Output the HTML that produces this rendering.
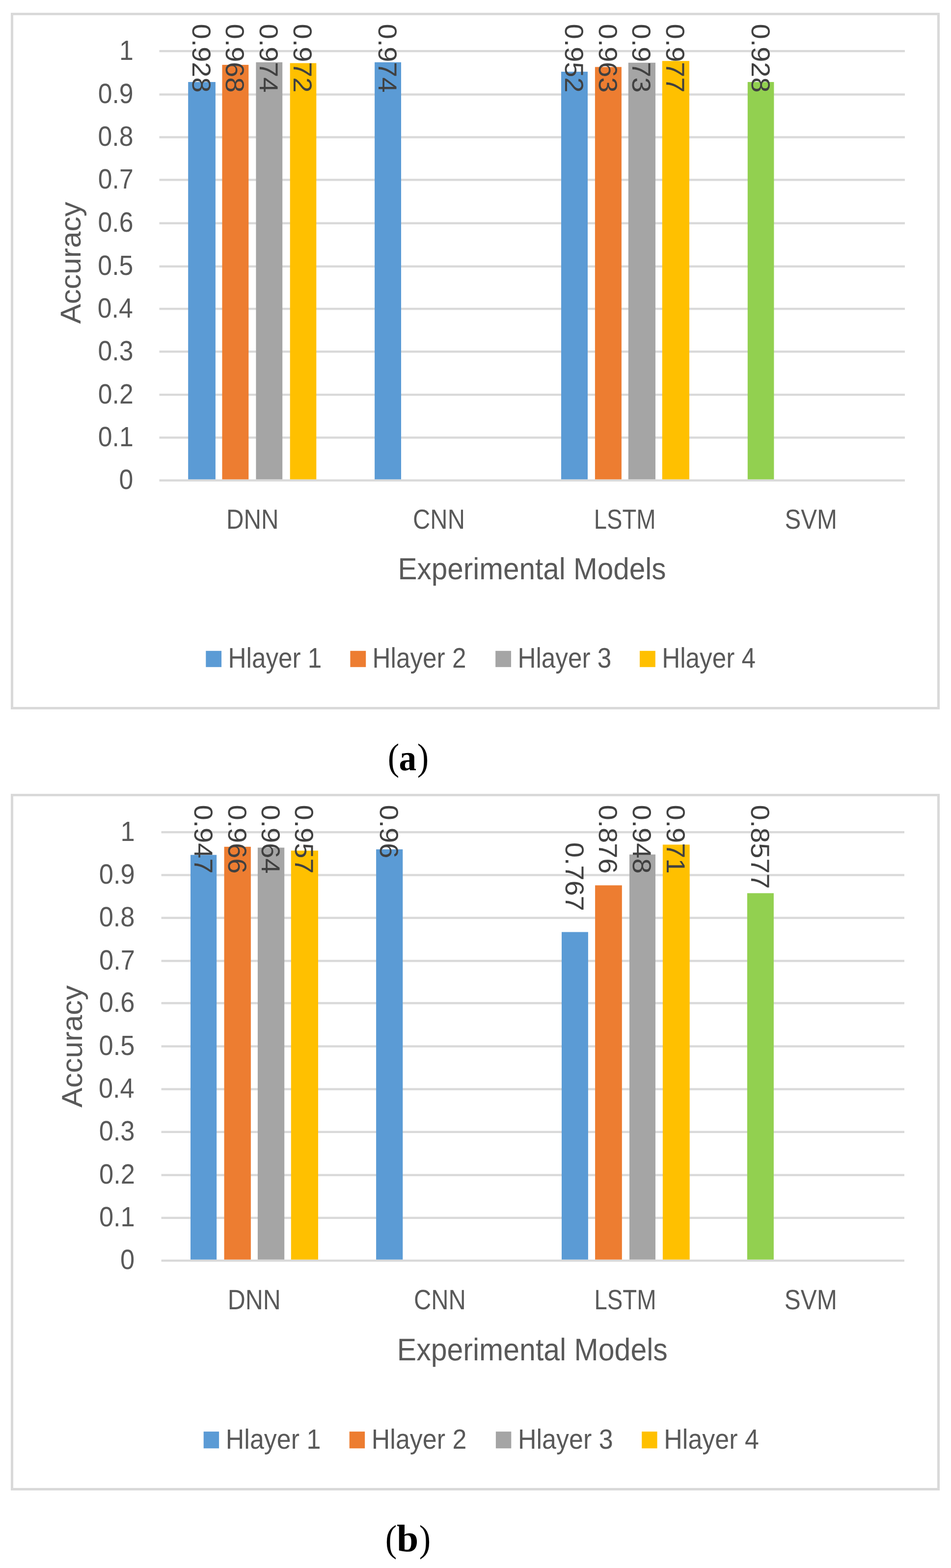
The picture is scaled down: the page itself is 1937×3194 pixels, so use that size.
<!DOCTYPE html>
<html lang="en"><head><meta charset="utf-8"><title>Accuracy of experimental models</title>
<style>
html,body{margin:0;padding:0;background:#ffffff;}
body{width:1937px;height:3194px;overflow:hidden;}
svg{display:block;}
svg text{font-kerning:none;text-rendering:geometricPrecision;font-variant-ligatures:none;}
</style></head>
<body>
<svg width="1937" height="3194" viewBox="0 0 1937 3194">
<rect x="0" y="0" width="1937" height="3194" fill="#ffffff"/>
<rect x="22.00" y="26.00" width="1892.00" height="5.00" fill="#D9D9D9"/>
<rect x="22.00" y="1440.00" width="1892.00" height="5.00" fill="#D9D9D9"/>
<rect x="22.00" y="26.00" width="5.00" height="1419.00" fill="#D9D9D9"/>
<rect x="1909.00" y="26.00" width="5.00" height="1419.00" fill="#D9D9D9"/>
<rect x="324.50" y="101.90" width="1518.50" height="4.40" fill="#D9D9D9"/>
<rect x="324.50" y="190.30" width="1518.50" height="4.40" fill="#D9D9D9"/>
<rect x="324.50" y="277.30" width="1518.50" height="4.40" fill="#D9D9D9"/>
<rect x="324.50" y="364.20" width="1518.50" height="4.40" fill="#D9D9D9"/>
<rect x="324.50" y="452.50" width="1518.50" height="4.40" fill="#D9D9D9"/>
<rect x="324.50" y="540.50" width="1518.50" height="4.40" fill="#D9D9D9"/>
<rect x="324.50" y="626.90" width="1518.50" height="4.40" fill="#D9D9D9"/>
<rect x="324.50" y="714.10" width="1518.50" height="4.40" fill="#D9D9D9"/>
<rect x="324.50" y="801.90" width="1518.50" height="4.40" fill="#D9D9D9"/>
<rect x="324.50" y="889.20" width="1518.50" height="4.40" fill="#D9D9D9"/>
<rect x="324.50" y="976.40" width="1518.50" height="4.40" fill="#D9D9D9"/>
<rect x="383.20" y="167.06" width="55.70" height="809.34" fill="#5B9BD5"/>
<rect x="452.50" y="132.08" width="53.80" height="844.32" fill="#ED7D31"/>
<rect x="521.40" y="126.84" width="53.80" height="849.56" fill="#A5A5A5"/>
<rect x="590.70" y="128.59" width="53.60" height="847.81" fill="#FFC000"/>
<rect x="763.10" y="126.84" width="53.90" height="849.56" fill="#5B9BD5"/>
<rect x="1143.00" y="146.08" width="54.00" height="830.32" fill="#5B9BD5"/>
<rect x="1211.90" y="136.46" width="54.00" height="839.94" fill="#ED7D31"/>
<rect x="1279.80" y="127.71" width="55.20" height="848.69" fill="#A5A5A5"/>
<rect x="1348.80" y="124.21" width="55.20" height="852.19" fill="#FFC000"/>
<rect x="1522.80" y="167.06" width="53.60" height="809.34" fill="#92D050"/>
<text transform="translate(392.01 48.51) rotate(90) scale(0.56000 0.53000)" font-size="100" fill="#404040" font-family='"Liberation Sans", Arial, sans-serif'>0.928</text>
<text transform="translate(460.36 48.51) rotate(90) scale(0.56000 0.53000)" font-size="100" fill="#404040" font-family='"Liberation Sans", Arial, sans-serif'>0.968</text>
<text transform="translate(529.26 48.51) rotate(90) scale(0.56000 0.53000)" font-size="100" fill="#404040" font-family='"Liberation Sans", Arial, sans-serif'>0.974</text>
<text transform="translate(598.46 48.51) rotate(90) scale(0.56000 0.53000)" font-size="100" fill="#404040" font-family='"Liberation Sans", Arial, sans-serif'>0.972</text>
<text transform="translate(771.01 48.51) rotate(90) scale(0.56000 0.53000)" font-size="100" fill="#404040" font-family='"Liberation Sans", Arial, sans-serif'>0.974</text>
<text transform="translate(1150.96 48.51) rotate(90) scale(0.56000 0.53000)" font-size="100" fill="#404040" font-family='"Liberation Sans", Arial, sans-serif'>0.952</text>
<text transform="translate(1219.86 48.51) rotate(90) scale(0.56000 0.53000)" font-size="100" fill="#404040" font-family='"Liberation Sans", Arial, sans-serif'>0.963</text>
<text transform="translate(1288.36 48.51) rotate(90) scale(0.56000 0.53000)" font-size="100" fill="#404040" font-family='"Liberation Sans", Arial, sans-serif'>0.973</text>
<text transform="translate(1357.36 48.51) rotate(90) scale(0.56000 0.53000)" font-size="100" fill="#404040" font-family='"Liberation Sans", Arial, sans-serif'>0.977</text>
<text transform="translate(1530.56 48.51) rotate(90) scale(0.56000 0.53000)" font-size="100" fill="#404040" font-family='"Liberation Sans", Arial, sans-serif'>0.928</text>
<text transform="translate(242.92 121.64) scale(0.51800 0.56800)" font-size="100" fill="#595959" font-family='"Liberation Sans", Arial, sans-serif'>1</text>
<text transform="translate(199.64 210.04) scale(0.51800 0.56800)" font-size="100" fill="#595959" font-family='"Liberation Sans", Arial, sans-serif'>0.9</text>
<text transform="translate(199.44 297.04) scale(0.51800 0.56800)" font-size="100" fill="#595959" font-family='"Liberation Sans", Arial, sans-serif'>0.8</text>
<text transform="translate(199.80 383.94) scale(0.51800 0.56800)" font-size="100" fill="#595959" font-family='"Liberation Sans", Arial, sans-serif'>0.7</text>
<text transform="translate(199.47 472.24) scale(0.51800 0.56800)" font-size="100" fill="#595959" font-family='"Liberation Sans", Arial, sans-serif'>0.6</text>
<text transform="translate(199.37 560.24) scale(0.51800 0.56800)" font-size="100" fill="#595959" font-family='"Liberation Sans", Arial, sans-serif'>0.5</text>
<text transform="translate(198.71 646.64) scale(0.51800 0.56800)" font-size="100" fill="#595959" font-family='"Liberation Sans", Arial, sans-serif'>0.4</text>
<text transform="translate(199.47 733.84) scale(0.51800 0.56800)" font-size="100" fill="#595959" font-family='"Liberation Sans", Arial, sans-serif'>0.3</text>
<text transform="translate(199.80 821.64) scale(0.51800 0.56800)" font-size="100" fill="#595959" font-family='"Liberation Sans", Arial, sans-serif'>0.2</text>
<text transform="translate(199.72 908.94) scale(0.51800 0.56800)" font-size="100" fill="#595959" font-family='"Liberation Sans", Arial, sans-serif'>0.1</text>
<text transform="translate(242.41 996.14) scale(0.51800 0.56800)" font-size="100" fill="#595959" font-family='"Liberation Sans", Arial, sans-serif'>0</text>
<text transform="translate(164.10 659.52) rotate(-90) scale(0.60413 0.58431)" font-size="100" fill="#595959" font-family='"Liberation Sans", Arial, sans-serif'>Accuracy</text>
<text transform="translate(460.96 1077.00) scale(0.49228 0.56251)" font-size="100" fill="#595959" font-family='"Liberation Sans", Arial, sans-serif'>DNN</text>
<text transform="translate(841.12 1077.00) scale(0.48816 0.56251)" font-size="100" fill="#595959" font-family='"Liberation Sans", Arial, sans-serif'>CNN</text>
<text transform="translate(1209.73 1077.00) scale(0.47145 0.56251)" font-size="100" fill="#595959" font-family='"Liberation Sans", Arial, sans-serif'>LSTM</text>
<text transform="translate(1598.57 1077.00) scale(0.49079 0.56251)" font-size="100" fill="#595959" font-family='"Liberation Sans", Arial, sans-serif'>SVM</text>
<text transform="translate(810.60 1179.90) scale(0.58454 0.62210)" font-size="100" fill="#595959" font-family='"Liberation Sans", Arial, sans-serif'>Experimental Models</text>
<rect x="419.30" y="1325.80" width="31.80" height="33.00" fill="#5B9BD5"/>
<text transform="translate(464.50 1359.80) scale(0.51242 0.57704)" font-size="100" fill="#595959" font-family='"Liberation Sans", Arial, sans-serif'>Hlayer 1</text>
<rect x="713.40" y="1325.80" width="31.80" height="33.00" fill="#ED7D31"/>
<text transform="translate(758.60 1359.80) scale(0.51242 0.57704)" font-size="100" fill="#595959" font-family='"Liberation Sans", Arial, sans-serif'>Hlayer 2</text>
<rect x="1009.20" y="1325.80" width="31.80" height="33.00" fill="#A5A5A5"/>
<text transform="translate(1054.40 1359.80) scale(0.51242 0.57704)" font-size="100" fill="#595959" font-family='"Liberation Sans", Arial, sans-serif'>Hlayer 3</text>
<rect x="1303.00" y="1325.80" width="31.80" height="33.00" fill="#FFC000"/>
<text transform="translate(1348.20 1359.80) scale(0.51242 0.57704)" font-size="100" fill="#595959" font-family='"Liberation Sans", Arial, sans-serif'>Hlayer 4</text>
<text transform="translate(789.80 1568.31) scale(0.70473 0.76979)" font-size="100" fill="#000000" font-family='"Liberation Serif", "Times New Roman", serif'>(</text>
<text transform="translate(812.50 1568.97) scale(0.71360 0.75156)" font-size="100" fill="#000000" font-weight="bold" font-family='"Liberation Serif", "Times New Roman", serif'>a</text>
<text transform="translate(849.63 1568.31) scale(0.70473 0.76979)" font-size="100" fill="#000000" font-family='"Liberation Serif", "Times New Roman", serif'>)</text>
<rect x="22.00" y="1617.00" width="1892.00" height="5.00" fill="#D9D9D9"/>
<rect x="22.00" y="3031.00" width="1892.00" height="5.00" fill="#D9D9D9"/>
<rect x="22.00" y="1617.00" width="5.00" height="1419.00" fill="#D9D9D9"/>
<rect x="1909.00" y="1617.00" width="5.00" height="1419.00" fill="#D9D9D9"/>
<rect x="328.60" y="1693.00" width="1513.40" height="4.40" fill="#D9D9D9"/>
<rect x="328.60" y="1780.30" width="1513.40" height="4.40" fill="#D9D9D9"/>
<rect x="328.60" y="1867.50" width="1513.40" height="4.40" fill="#D9D9D9"/>
<rect x="328.60" y="1955.20" width="1513.40" height="4.40" fill="#D9D9D9"/>
<rect x="328.60" y="2041.20" width="1513.40" height="4.40" fill="#D9D9D9"/>
<rect x="328.60" y="2129.20" width="1513.40" height="4.40" fill="#D9D9D9"/>
<rect x="328.60" y="2216.40" width="1513.40" height="4.40" fill="#D9D9D9"/>
<rect x="328.60" y="2303.60" width="1513.40" height="4.40" fill="#D9D9D9"/>
<rect x="328.60" y="2391.40" width="1513.40" height="4.40" fill="#D9D9D9"/>
<rect x="328.60" y="2478.60" width="1513.40" height="4.40" fill="#D9D9D9"/>
<rect x="328.60" y="2565.70" width="1513.40" height="4.40" fill="#D9D9D9"/>
<rect x="388.05" y="1741.45" width="53.15" height="824.25" fill="#5B9BD5"/>
<rect x="456.60" y="1724.87" width="54.30" height="840.83" fill="#ED7D31"/>
<rect x="524.90" y="1726.62" width="54.30" height="839.08" fill="#A5A5A5"/>
<rect x="592.80" y="1732.73" width="55.20" height="832.97" fill="#FFC000"/>
<rect x="766.10" y="1730.11" width="54.20" height="835.59" fill="#5B9BD5"/>
<rect x="1144.00" y="1898.54" width="53.90" height="667.16" fill="#5B9BD5"/>
<rect x="1212.10" y="1803.41" width="54.70" height="762.29" fill="#ED7D31"/>
<rect x="1282.00" y="1740.58" width="53.00" height="825.12" fill="#A5A5A5"/>
<rect x="1349.90" y="1720.51" width="54.80" height="845.19" fill="#FFC000"/>
<rect x="1521.90" y="1819.39" width="54.00" height="746.31" fill="#92D050"/>
<text transform="translate(395.58 1639.41) rotate(90) scale(0.56000 0.53000)" font-size="100" fill="#404040" font-family='"Liberation Sans", Arial, sans-serif'>0.947</text>
<text transform="translate(464.71 1639.41) rotate(90) scale(0.56000 0.53000)" font-size="100" fill="#404040" font-family='"Liberation Sans", Arial, sans-serif'>0.966</text>
<text transform="translate(533.01 1639.41) rotate(90) scale(0.56000 0.53000)" font-size="100" fill="#404040" font-family='"Liberation Sans", Arial, sans-serif'>0.964</text>
<text transform="translate(601.36 1639.41) rotate(90) scale(0.56000 0.53000)" font-size="100" fill="#404040" font-family='"Liberation Sans", Arial, sans-serif'>0.957</text>
<text transform="translate(774.16 1639.41) rotate(90) scale(0.56000 0.53000)" font-size="100" fill="#404040" font-family='"Liberation Sans", Arial, sans-serif'>0.96</text>
<text transform="translate(1151.91 1715.82) rotate(90) scale(0.56000 0.53000)" font-size="100" fill="#404040" font-family='"Liberation Sans", Arial, sans-serif'>0.767</text>
<text transform="translate(1220.41 1639.41) rotate(90) scale(0.56000 0.53000)" font-size="100" fill="#404040" font-family='"Liberation Sans", Arial, sans-serif'>0.876</text>
<text transform="translate(1289.46 1639.41) rotate(90) scale(0.56000 0.53000)" font-size="100" fill="#404040" font-family='"Liberation Sans", Arial, sans-serif'>0.948</text>
<text transform="translate(1358.26 1639.41) rotate(90) scale(0.56000 0.53000)" font-size="100" fill="#404040" font-family='"Liberation Sans", Arial, sans-serif'>0.971</text>
<text transform="translate(1529.86 1639.41) rotate(90) scale(0.56000 0.53000)" font-size="100" fill="#404040" font-family='"Liberation Sans", Arial, sans-serif'>0.8577</text>
<text transform="translate(245.62 1712.74) scale(0.52400 0.56800)" font-size="100" fill="#595959" font-family='"Liberation Sans", Arial, sans-serif'>1</text>
<text transform="translate(201.84 1800.04) scale(0.52400 0.56800)" font-size="100" fill="#595959" font-family='"Liberation Sans", Arial, sans-serif'>0.9</text>
<text transform="translate(201.63 1887.24) scale(0.52400 0.56800)" font-size="100" fill="#595959" font-family='"Liberation Sans", Arial, sans-serif'>0.8</text>
<text transform="translate(201.99 1974.94) scale(0.52400 0.56800)" font-size="100" fill="#595959" font-family='"Liberation Sans", Arial, sans-serif'>0.7</text>
<text transform="translate(201.66 2060.94) scale(0.52400 0.56800)" font-size="100" fill="#595959" font-family='"Liberation Sans", Arial, sans-serif'>0.6</text>
<text transform="translate(201.56 2148.94) scale(0.52400 0.56800)" font-size="100" fill="#595959" font-family='"Liberation Sans", Arial, sans-serif'>0.5</text>
<text transform="translate(200.89 2236.14) scale(0.52400 0.56800)" font-size="100" fill="#595959" font-family='"Liberation Sans", Arial, sans-serif'>0.4</text>
<text transform="translate(201.66 2323.34) scale(0.52400 0.56800)" font-size="100" fill="#595959" font-family='"Liberation Sans", Arial, sans-serif'>0.3</text>
<text transform="translate(201.99 2411.14) scale(0.52400 0.56800)" font-size="100" fill="#595959" font-family='"Liberation Sans", Arial, sans-serif'>0.2</text>
<text transform="translate(201.92 2498.34) scale(0.52400 0.56800)" font-size="100" fill="#595959" font-family='"Liberation Sans", Arial, sans-serif'>0.1</text>
<text transform="translate(245.10 2585.44) scale(0.52400 0.56800)" font-size="100" fill="#595959" font-family='"Liberation Sans", Arial, sans-serif'>0</text>
<text transform="translate(166.70 2256.02) rotate(-90) scale(0.60510 0.58867)" font-size="100" fill="#595959" font-family='"Liberation Sans", Arial, sans-serif'>Accuracy</text>
<text transform="translate(463.71 2667.00) scale(0.49877 0.56978)" font-size="100" fill="#595959" font-family='"Liberation Sans", Arial, sans-serif'>DNN</text>
<text transform="translate(843.02 2667.00) scale(0.48816 0.56978)" font-size="100" fill="#595959" font-family='"Liberation Sans", Arial, sans-serif'>CNN</text>
<text transform="translate(1210.42 2667.00) scale(0.47305 0.56978)" font-size="100" fill="#595959" font-family='"Liberation Sans", Arial, sans-serif'>LSTM</text>
<text transform="translate(1597.86 2667.00) scale(0.49423 0.56978)" font-size="100" fill="#595959" font-family='"Liberation Sans", Arial, sans-serif'>SVM</text>
<text transform="translate(808.86 2770.60) scale(0.59007 0.63809)" font-size="100" fill="#595959" font-family='"Liberation Sans", Arial, sans-serif'>Experimental Models</text>
<rect x="414.70" y="2916.10" width="31.40" height="34.20" fill="#5B9BD5"/>
<text transform="translate(459.84 2950.60) scale(0.51965 0.56687)" font-size="100" fill="#595959" font-family='"Liberation Sans", Arial, sans-serif'>Hlayer 1</text>
<rect x="711.70" y="2916.10" width="31.40" height="34.20" fill="#ED7D31"/>
<text transform="translate(756.84 2950.60) scale(0.51965 0.56687)" font-size="100" fill="#595959" font-family='"Liberation Sans", Arial, sans-serif'>Hlayer 2</text>
<rect x="1009.90" y="2916.10" width="31.40" height="34.20" fill="#A5A5A5"/>
<text transform="translate(1055.04 2950.60) scale(0.51965 0.56687)" font-size="100" fill="#595959" font-family='"Liberation Sans", Arial, sans-serif'>Hlayer 3</text>
<rect x="1307.20" y="2916.10" width="31.40" height="34.20" fill="#FFC000"/>
<text transform="translate(1352.34 2950.60) scale(0.51965 0.56687)" font-size="100" fill="#595959" font-family='"Liberation Sans", Arial, sans-serif'>Hlayer 4</text>
<text transform="translate(784.70 3159.51) scale(0.70473 0.76979)" font-size="100" fill="#000000" font-family='"Liberation Serif", "Times New Roman", serif'>(</text>
<text transform="translate(807.99 3160.34) scale(0.79733 0.78168)" font-size="100" fill="#000000" font-weight="bold" font-family='"Liberation Serif", "Times New Roman", serif'>b</text>
<text transform="translate(853.63 3159.51) scale(0.70473 0.76979)" font-size="100" fill="#000000" font-family='"Liberation Serif", "Times New Roman", serif'>)</text>
</svg>
</body></html>
